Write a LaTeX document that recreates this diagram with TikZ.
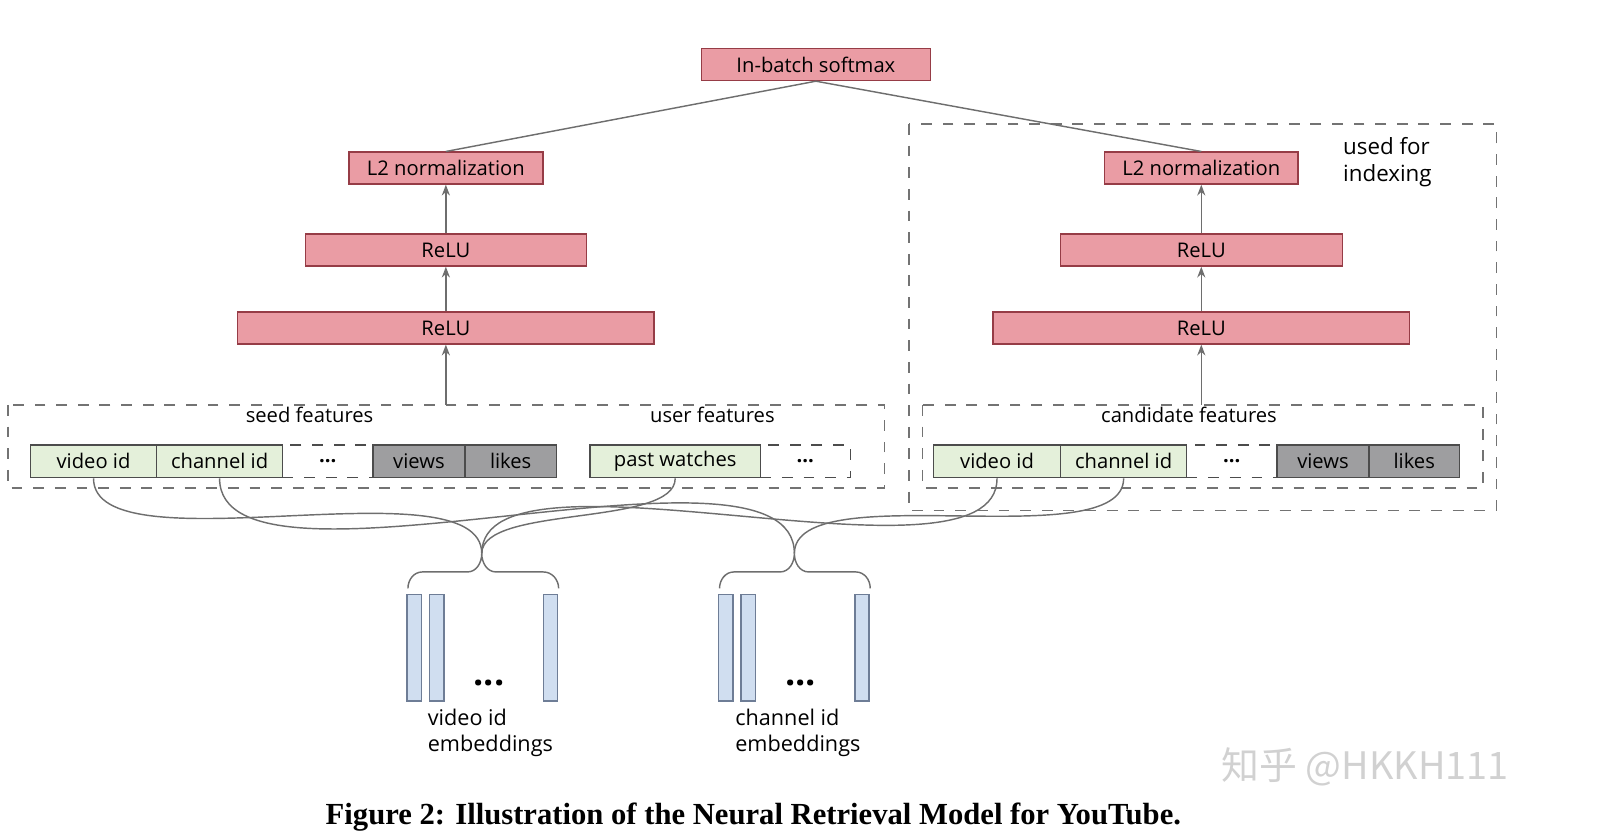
\documentclass[tikz,border=0pt]{standalone}
\usepackage{fontspec}
\setmainfont{Open Sans}
\newfontfamily\capfont{Liberation Serif}
\newfontfamily\cjk{Noto Sans CJK SC}
\usetikzlibrary{arrows.meta, positioning}

\definecolor{layerfill}{RGB}{234,156,164}
\definecolor{layerdraw}{RGB}{150,60,70}
\definecolor{featfill}{RGB}{228,240,218}
\definecolor{statfill}{RGB}{158,158,160}
\definecolor{embfill}{RGB}{208,222,240}
\definecolor{embdraw}{RGB}{110,125,150}
\definecolor{wire}{RGB}{110,110,110}

\begin{document}
\begin{tikzpicture}[
    x=0.01cm, y=-0.01cm,
    >=Stealth,
    font=\fontsize{5.6}{6.5}\selectfont,
    layer/.style={draw=layerdraw, fill=layerfill, inner sep=0pt, minimum height=0.31cm},
    cell/.style={draw=black!70, inner sep=0pt, minimum height=0.32cm, anchor=west},
    feat/.style={cell, fill=featfill},
    stat/.style={cell, fill=statfill},
    more/.style={cell, dashed, font=\fontsize{5.6}{6.5}\selectfont\bfseries},
    group/.style={draw=black!55, dashed},
    emb/.style={draw=embdraw, fill=embfill, inner sep=0pt, minimum width=0.14cm, minimum height=1.04cm},
    up/.style={->, draw=wire, thin, >={Stealth[length=3pt]}},
    link/.style={draw=wire, thin}
]
\useasboundingbox (0,0) rectangle (1561,812);

% Layers ------------------------------------------------------

\node[layer, minimum width=2.23cm] (softmax) at (796,63) {In-batch softmax};

\node[layer, minimum width=1.89cm] (l2a) at (435,164) {L2 normalization};
\node[layer, minimum width=2.74cm] (relua) at (435,244) {ReLU};
\node[layer, minimum width=4.06cm] (relub) at (435,320) {ReLU};

\node[layer, minimum width=1.89cm] (l2c) at (1172,164) {L2 normalization};
\node[layer, minimum width=2.75cm] (reluc) at (1172,244) {ReLU};
\node[layer, minimum width=4.06cm] (relud) at (1172,320) {ReLU};

\node[align=left, anchor=west, font=\fontsize{6.2}{7.6}\selectfont] (index) at (1298,158) {used for\\indexing};
\draw[group] (887,121) rectangle (1460,498);

% Features ----------------------------------------------------

\draw[group] (8,395) rectangle (863,476);
\coordinate (seedtop) at (435,395);
\node (seed) at (302,405) {seed features};
\node (user) at (695,405) {user features};

\node[feat, minimum width=1.23cm] (vid) at (29,450) {video id};
\node[feat, minimum width=1.23cm] (cid) at (152,450) {channel id};
\node[more, minimum width=0.88cm] (dots1) at (275,450) {...};
\node[stat, minimum width=0.90cm] (views) at (363,450) {views};
\node[stat, minimum width=0.89cm] (likes) at (453,450) {likes};
\node[feat, minimum width=1.66cm] (past) at (575,450) {past watches};
\node[more, minimum width=0.88cm] (dots2) at (741,450) {...};

\draw[group] (900,395) rectangle (1447,476);
\coordinate (candtop) at (1172,395);
\node (cand) at (1160,405) {candidate features};

\node[feat, minimum width=1.24cm] (vidc) at (910,450) {video id};
\node[feat, minimum width=1.23cm] (cidc) at (1034,450) {channel id};
\node[more, minimum width=0.88cm] (dots3) at (1157,450) {...};
\node[stat, minimum width=0.90cm] (viewsc) at (1245,450) {views};
\node[stat, minimum width=0.88cm] (likesc) at (1335,450) {likes};

% Embeddings --------------------------------------------------

\node[emb] (va) at (404,632) {};
\node[emb] (vb) at (426,632) {};
\node[emb] (vc) at (537,632) {};
\node[font=\bfseries] at (477,666) {...};
\node[align=left, anchor=west, font=\fontsize{6}{7.2}\selectfont] (vlabel) at (405,715) {video id\\embeddings};

\node[emb] (ca) at (708,632) {};
\node[emb] (cb) at (730,632) {};
\node[emb] (cc) at (841,632) {};
\node[font=\bfseries] at (781,666) {...};
\node[align=left, anchor=west, font=\fontsize{6}{7.2}\selectfont] (clabel) at (705,715) {channel id\\embeddings};

\coordinate (vapex) at (470,540);
\coordinate (capex) at (775,540);
\draw[link] (398,574) to[out=90,in=180] (412,558) -- (456,558)
    to[out=0,in=-90] (vapex) to[out=-90,in=180] (484,558) -- (530,558) to[out=0,in=90] (545,574);
\draw[link] (702,574) to[out=90,in=180] (716,558) -- (761,558)
    to[out=0,in=-90] (capex) to[out=-90,in=180] (789,558) -- (835,558) to[out=0,in=90] (849,574);

% Arrows ------------------------------------------------------

\draw[link] (softmax.south) -- (l2a.north);
\draw[link] (softmax.south) -- (l2c.north);
\draw[up] (relua) -- (l2a);
\draw[up] (relub) -- (relua);
\draw[up] (seedtop) -- (relub);
\draw[up] (reluc) -- (l2c);
\draw[up] (relud) -- (reluc);
\draw[up] (candtop) -- (relud);

\draw[link] (vid.south) to[out=-90,in=90, looseness=0.6] (vapex);
\draw[link] (past.south) to[out=-90,in=90, looseness=0.6] (vapex);
\draw[link] (vidc.south) to[out=-90,in=90, looseness=0.6] (vapex);
\draw[link] (cid.south) to[out=-90,in=90, looseness=0.6] (capex);
\draw[link] (cidc.south) to[out=-90,in=90, looseness=0.6] (capex);

% Caption -----------------------------------------------------

\node[font=\capfont\fontsize{8.5}{10}\selectfont\bfseries] (caption) at (735,797)
    {Figure 2: Illustration of the Neural Retrieval Model for YouTube.};
\node[text=black!18, font=\cjk\fontsize{10.5}{13}\selectfont] (mark) at (1332,748) {知乎 @HKKH111};

\end{tikzpicture}
\end{document}
